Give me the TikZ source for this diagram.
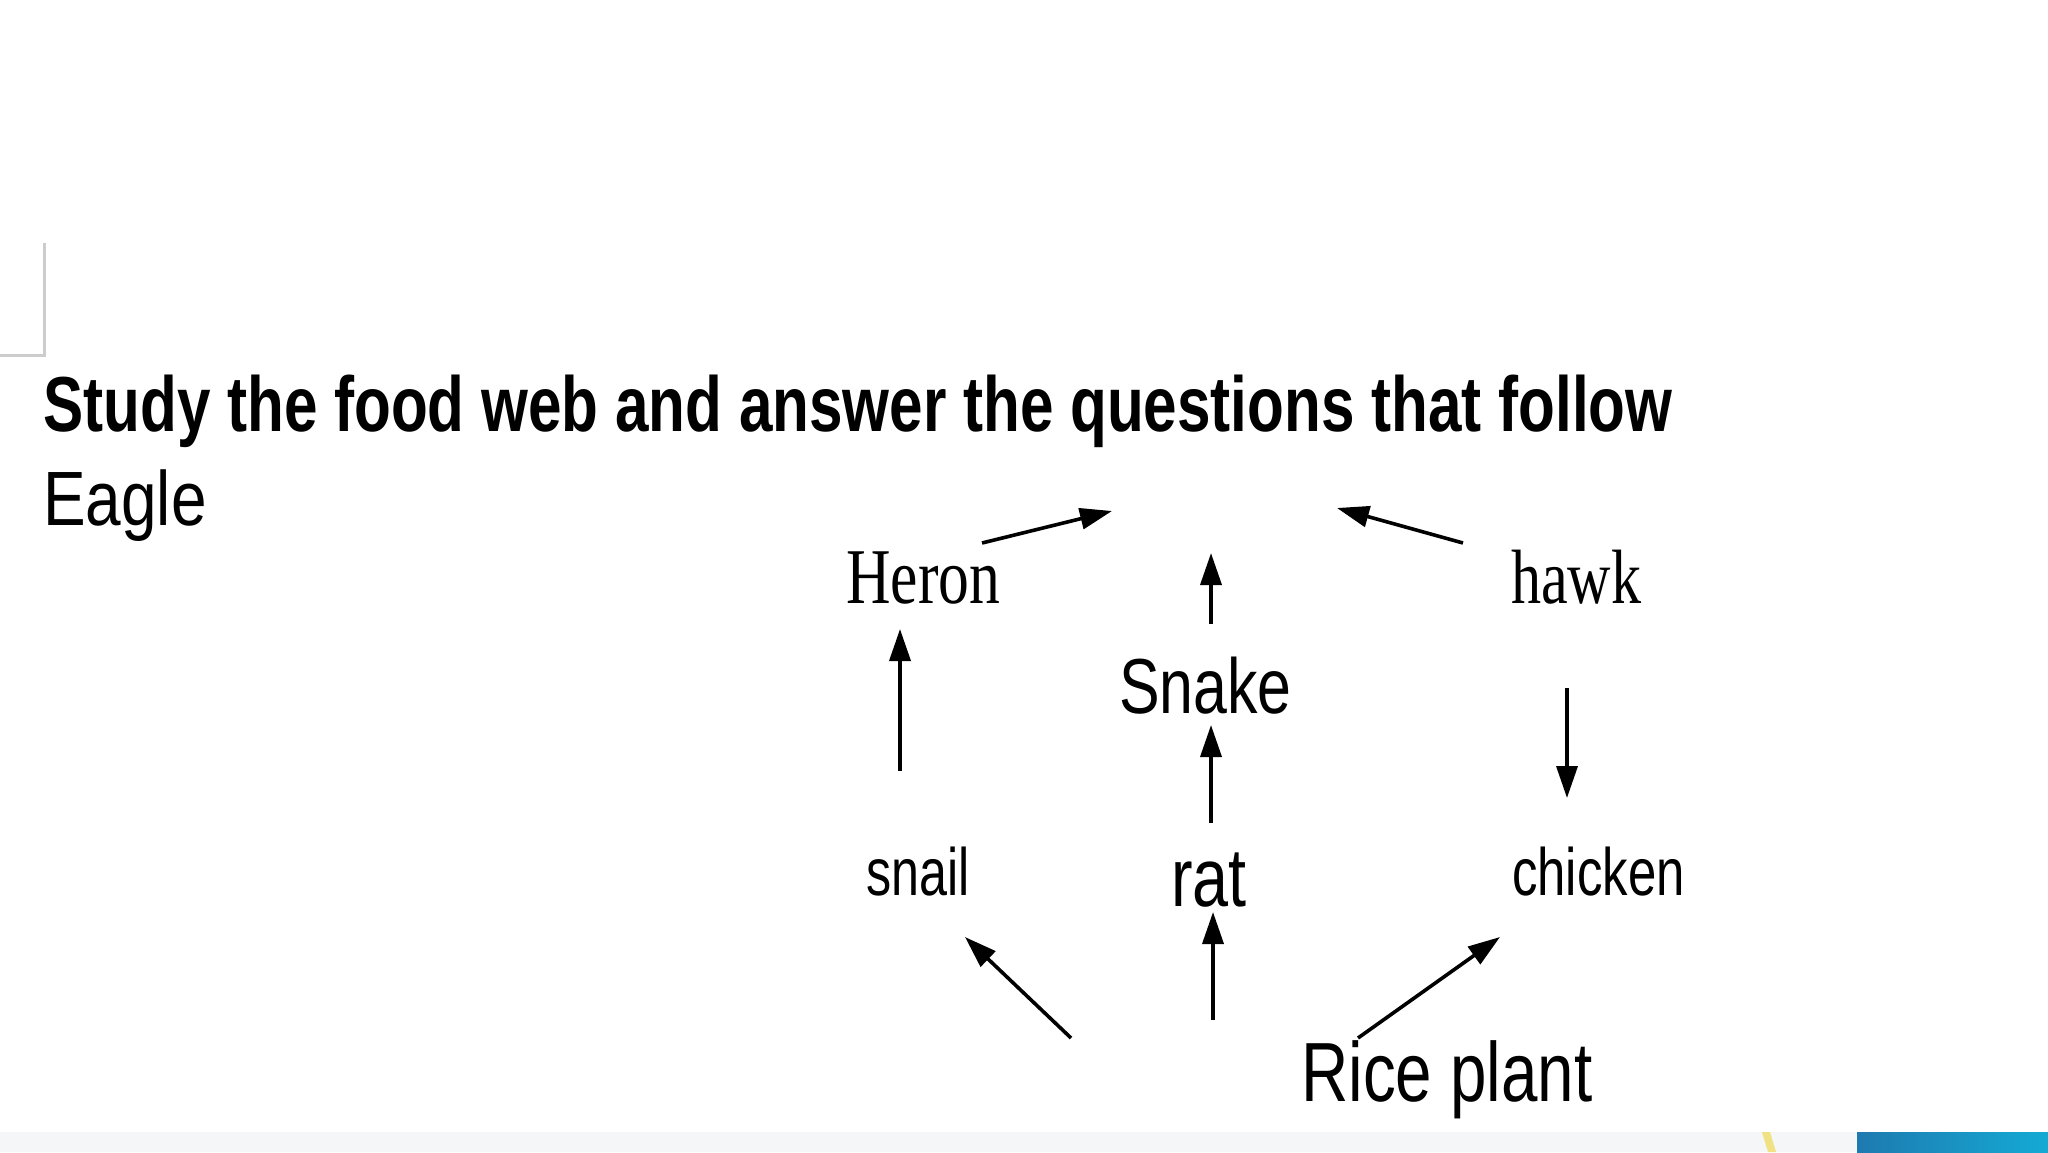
\documentclass[tikz,border=0pt]{standalone}
\usepackage{fontspec}
\setmainfont{Liberation Serif}
\setsansfont{Liberation Sans}
\usetikzlibrary{arrows.meta,positioning}

\definecolor{stripgray}{RGB}{245,246,247}
\definecolor{stripyellow}{RGB}{240,226,130}
\definecolor{stripblueA}{RGB}{30,122,176}
\definecolor{stripblueB}{RGB}{20,170,212}
\definecolor{marggray}{RGB}{204,204,204}

\newcommand{\squeeze}[2][0.78]{\scalebox{#1}[1]{#2}}

\tikzset{
  eat/.style={-{Triangle[length=32pt,width=21pt]}, line width=3.6pt},
  sans/.style={font=\fontsize{#1}{#1}\selectfont\sffamily, inner sep=0pt, anchor=base west},
  serif/.style={font=\fontsize{#1}{#1}\selectfont\rmfamily, inner sep=0pt, anchor=base west},
}

\begin{document}
\begin{tikzpicture}[x=1pt,y=-1pt]
    \useasboundingbox (0,0) rectangle (2048,1152);

    % Page margin mark and bottom strip
    \draw[marggray, line width=3pt] (44,243) -- (44,355) -- (0,355);
    \fill[stripgray] (0,1132) rectangle (1857,1152);
    \fill[stripyellow] (1762,1132) -- (1770,1132) -- (1776,1152) -- (1768,1152) -- cycle;
    \shade[left color=stripblueA, right color=stripblueB] (1857,1132) rectangle (2048,1152);

    % Question text
    \node[sans=78, font=\fontsize{78}{78}\selectfont\sffamily\bfseries] (title) at (43,431) {\squeeze[0.772]{Study the food web and answer the questions that follow}};
    \node[sans=77] (eagle) at (43,525) {\squeeze[0.83]{Eagle}};

    % Organisms
    \node[serif=79] (heron) at (846,603) {\squeeze{Heron}};
    \node[serif=77] (hawk) at (1511,603) {\squeeze{hawk}};
    \node[sans=78] (snake) at (1119,713) {\squeeze{Snake}};
    \node[sans=67] (snail) at (866,895) {\squeeze[0.75]{snail}};
    \node[sans=83] (rat) at (1171,906) {\squeeze{rat}};
    \node[sans=67] (chicken) at (1512,895) {\squeeze[0.76]{chicken}};
    \node[sans=84] (rice) at (1301,1101) {\squeeze{Rice plant}};

    % Arrow ends
    \coordinate (heron-out) at (982,543);
    \coordinate (heron-to) at (1112,511);
    \coordinate (snake-out) at (1211,624);
    \coordinate (snake-to) at (1211,553);
    \coordinate (hawk-out) at (1463,543);
    \coordinate (hawk-to) at (1337,508);
    \coordinate (snail-out) at (900,771);
    \coordinate (snail-to) at (900,629);
    \coordinate (rat-out) at (1211,823);
    \coordinate (rat-to) at (1211,725);
    \coordinate (hawk-down) at (1567,688);
    \coordinate (chicken-in) at (1567,798);
    \coordinate (rice-l) at (1071,1038);
    \coordinate (rice-l-to) at (965,937);
    \coordinate (rice-m) at (1213,1020);
    \coordinate (rice-m-to) at (1213,912);
    \coordinate (rice-r) at (1358,1038);
    \coordinate (rice-r-to) at (1500,937);

    % Feeding arrows
    \foreach \a/\b in {heron-out/heron-to, snake-out/snake-to, hawk-out/hawk-to,
                       snail-out/snail-to, rat-out/rat-to, hawk-down/chicken-in,
                       rice-l/rice-l-to, rice-m/rice-m-to, rice-r/rice-r-to}
      \draw[eat] (\a) -- (\b);

\end{tikzpicture}
\end{document}
